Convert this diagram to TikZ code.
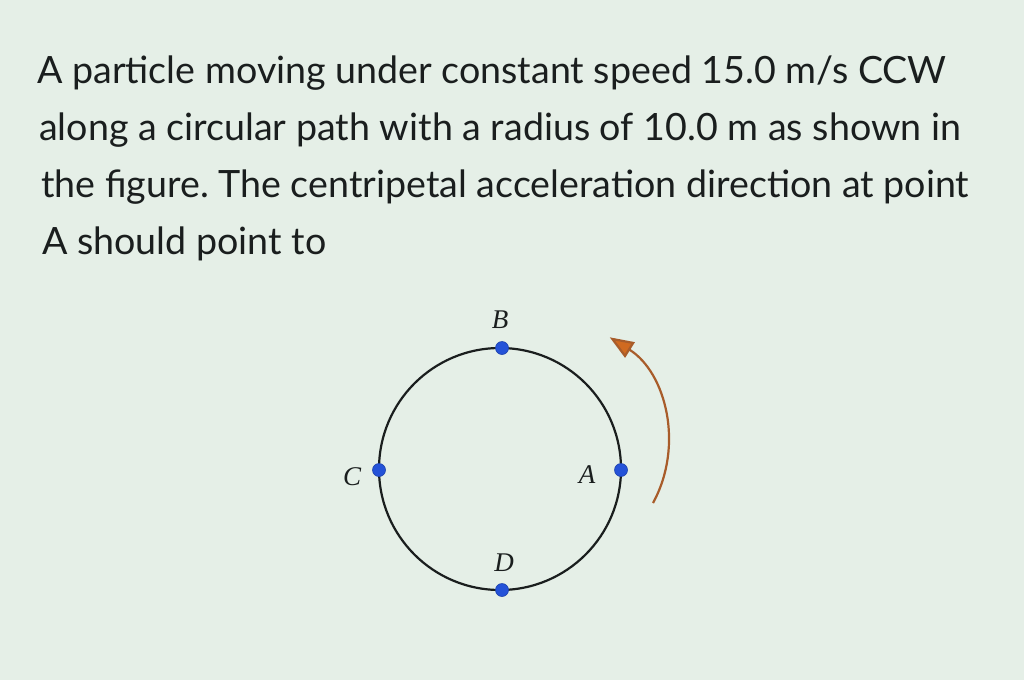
\documentclass[tikz,border=0pt]{standalone}
\usepackage{fontspec}
\setmainfont{Lato}
\newfontfamily\labfont{Liberation Serif}
\usetikzlibrary{arrows.meta}
\definecolor{bgc}{HTML}{E5EFE7}
\definecolor{txtc}{HTML}{1A1E1E}
\definecolor{dotc}{HTML}{2452D8}
\definecolor{arrc}{HTML}{A85C2A}
\definecolor{headc}{HTML}{D06A20}
\tikzset{
  qtext/.style={anchor=base west, inner sep=0pt, text=txtc, font=\fontsize{37.6}{45}\selectfont},
  ptlabel/.style={anchor=base, inner sep=0pt, text=txtc, font=\labfont\itshape\fontsize{27}{31}\selectfont},
  ptdot/.style={circle, fill=dotc, draw=dotc!80!black, line width=0.6pt, minimum size=13pt, inner sep=0pt},
  path/.style={draw=txtc, line width=2.2pt},
  ccw/.style={draw=arrc, line width=2.2pt, -{Triangle[length=24pt,width=18pt,fill=headc]}}
}
\frenchspacing
\begin{document}
\begin{tikzpicture}[x=1pt,y=-1pt]
\fill[bgc] (0,0) rectangle (1024,680);
\useasboundingbox (0,0) rectangle (1024,680);
\node[qtext] (l1) at (37,83) {A particle moving under constant speed 15.0 m/s CCW};
\node[qtext] (l2) at (39,140) {along a circular path with a radius of 10.0 m as shown in};
\node[qtext] (l3) at (41,197) {the figure. The centripetal acceleration direction at point};
\node[qtext] (l4) at (42,254) {A should point to};
\coordinate (O) at (500,469);
\draw[path] (O) circle[radius=121pt];
\node[ptdot] (B) at (502,348) {};
\node[ptdot] (D) at (502,590) {};
\node[ptdot] (C) at (379,470) {};
\node[ptdot] (A) at (621,470) {};
\node[ptlabel] (lB) at (500,328) {B};
\node[ptlabel] (lC) at (352,485) {C};
\node[ptlabel] (lA) at (587,483) {A};
\node[ptlabel] (lD) at (504,571) {D};
\coordinate (s) at (653,503);
\draw[ccw] (s) arc[start angle=-28.6, end angle=57.9, radius=125pt];
\end{tikzpicture}
\end{document}
